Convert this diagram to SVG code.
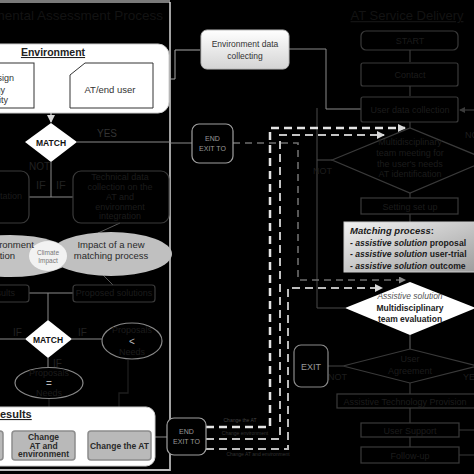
<svg xmlns="http://www.w3.org/2000/svg" width="474" height="474" viewBox="0 0 474 474">
<defs>
<style>
text{font-family:"Liberation Sans",Arial,sans-serif}
.dim{fill:#1c1c1c;font-size:9px}
.dimb{fill:none;stroke:#3a3a3a;stroke-width:1.2}
.ln{fill:none;stroke:#8a8a8a;stroke-width:1}
.dk{fill:none;stroke:#222;stroke-width:1.2}
.btn{fill:#b9b9b9;stroke:#8c8c8c;stroke-width:1.5}
.bt{fill:#2a2a2a;font-size:8.5px;font-weight:bold;text-anchor:middle}
.mid{text-anchor:middle}
</style>
<linearGradient id="gEnv" x1="0" y1="0" x2="0" y2="1"><stop offset="0" stop-color="#ffffff"/><stop offset="1" stop-color="#d4d4d4"/></linearGradient>
<linearGradient id="gMatch" x1="0" y1="0" x2="1" y2="1"><stop offset="0" stop-color="#f2f2f2"/><stop offset="1" stop-color="#9c9c9c"/></linearGradient>
<marker id="aw" markerWidth="8" markerHeight="8" refX="7" refY="4" orient="auto" markerUnits="userSpaceOnUse"><path d="M0,0 L8,4 L0,8 z" fill="#d8d8d8"/></marker>
<marker id="ag" markerWidth="7" markerHeight="7" refX="6" refY="3.5" orient="auto" markerUnits="userSpaceOnUse"><path d="M0,0 L7,3.5 L0,7 z" fill="#8a8a8a"/></marker>
<marker id="ad" markerWidth="6" markerHeight="6" refX="5" refY="3" orient="auto" markerUnits="userSpaceOnUse"><path d="M0,0 L6,3 L0,6 z" fill="#3a3a3a"/></marker>
<marker id="ak" markerWidth="6" markerHeight="6" refX="5" refY="3" orient="auto" markerUnits="userSpaceOnUse"><path d="M0,0 L6,3 L0,6 z" fill="#222"/></marker>
</defs>
<rect width="474" height="474" fill="#000"/>

<g id="left-panel">
<rect x="0" y="0" width="170" height="3" fill="#7a7a7a"/>
<line x1="170" y1="2" x2="170" y2="471" stroke="#d8d8d8" stroke-width="1.5"/>
<line x1="0" y1="470" x2="170" y2="470" stroke="#bdbdbd" stroke-width="2"/>
<text x="163" y="20" font-size="13.5" fill="#131313" text-anchor="end">Environmental Assessment Process</text>
</g>

<g id="connectors">
<path class="dk" d="M34,88 H70 M51,88 V113"/>
<path d="M51,113 V122" stroke="#cfcfcf" stroke-width="1.2" fill="none" marker-end="url(#aw)"/>
<path class="ln" d="M77,142 H170"/>
<path class="ln" d="M170,143 H192"/>
<path class="ln" d="M51,162 V197 M29,197 H73"/>
<path d="M120,223 L98,233" stroke="#555" stroke-width="1" fill="none"/>
<path d="M100,272 L113,285" stroke="#555" stroke-width="1" fill="none"/>
<path class="ln" d="M29,293 H73 M48,293 V320"/>
<path class="ln" d="M0,339 H25 M72,339 H102 M48,358 V368"/>
<path d="M49,399 V415 H43 V430" stroke="#1e1e1e" stroke-width="1.3" fill="none" marker-end="url(#ak)"/>
<path d="M128,360 V393 H119 V430" stroke="#1e1e1e" stroke-width="1.3" fill="none" marker-end="url(#ak)"/>
<path class="ln" d="M155,437 H167"/>
<path d="M168,79 H175 V50 H200" stroke="#a8a8a8" stroke-width="1" fill="none"/>
<path d="M289,49 H326 V109 H361" stroke="#8a8a8a" stroke-width="1" fill="none"/>
<path d="M474,110 H460" class="dimb" marker-end="url(#ad)"/>
<path d="M410,50 V62 M410,86 V96 M410,122 V128 M410,193 V198 M410,214 V222" class="dimb"/>
<path d="M332,160 H317 V308 H345" stroke="#4a4a4a" stroke-width="1" fill="none"/>
<path d="M317,108 V160" stroke="#4a4a4a" stroke-width="1" fill="none"/>
<path d="M410,335 V349" stroke="#666" stroke-width="1" fill="none"/>
<path d="M343,366 H328" class="dimb"/>
<path d="M410,383 V394 M410,408 V423 M410,437 V447" class="dimb"/>
<path d="M459,430 H474 M459,455 H474" class="dimb"/>
<path d="M233,143 H298 V280 H405" stroke="#6e6e6e" stroke-width="1.6" stroke-dasharray="7,5" fill="none" marker-end="url(#ag)"/>
<path d="M206,449 H288 V288 H382" stroke="#bcbcbc" stroke-width="2" stroke-dasharray="8,5" fill="none" marker-end="url(#aw)"/>
<path d="M206,439 H280 V135 H384" stroke="#c4c4c4" stroke-width="2" stroke-dasharray="8,5" fill="none" marker-end="url(#aw)"/>
<path d="M206,427 H270 V128 H405" stroke="#e4e4e4" stroke-width="2.5" stroke-dasharray="8,5" fill="none" marker-end="url(#aw)"/>
</g>

<g id="environment">
<rect x="-12" y="44" width="181" height="69" rx="11" fill="#fff" stroke="#ccc"/>
<text x="53" y="56" font-size="10.5" font-weight="bold" fill="#222" class="mid" text-decoration="underline">Environment</text>
<rect x="-12" y="63" width="46" height="45" fill="#fff" stroke="#333"/>
<text x="14" y="81" font-size="9" fill="#333" text-anchor="end">Design</text>
<text x="5" y="93" font-size="9" fill="#333" text-anchor="end">Technology</text>
<text x="8" y="103" font-size="9" fill="#333" text-anchor="end">Usability</text>
<polygon points="70,75 85,63 153,63 153,108 70,108" fill="#fff" stroke="#333"/>
<text x="110" y="93" font-size="9.5" fill="#333" class="mid">AT/end user</text>
</g>

<g id="match1">
<polygon points="25,142 51,123 77,142 51,162" fill="#fff"/>
<text x="51" y="145.5" font-size="8.5" font-weight="bold" fill="#111" class="mid">MATCH</text>
<text x="97" y="137" font-size="10" fill="#333">YES</text>
<text x="29" y="170" font-size="10" fill="#222">NOT</text>
<text x="36" y="189" font-size="11" fill="#222">IF</text>
<text x="56" y="189" font-size="11" fill="#222">IF</text>
</g>

<g id="box-env-adapt">
<rect x="-12" y="171" width="41" height="52" rx="8" class="dimb" stroke="#4a4a4a"/>
<text x="22" y="199" class="dim" text-anchor="end">adaptation</text>
</g>
<g id="box-technical">
<rect x="73" y="171" width="96" height="52" rx="8" class="dimb" stroke="#4a4a4a"/>
<text x="120" y="180" class="dim mid" font-size="8">Technical data</text>
<text x="120" y="190" class="dim mid" font-size="8">collection on the</text>
<text x="120" y="200" class="dim mid" font-size="8">AT and</text>
<text x="120" y="210" class="dim mid" font-size="8">environment</text>
<text x="120" y="219" class="dim mid" font-size="8">integration</text>
</g>

<g id="impacts">
<ellipse cx="10" cy="256" rx="62" ry="21" fill="#c3c3c3"/>
<ellipse cx="111" cy="254" rx="61" ry="22" fill="#c0c0c0"/>
<ellipse cx="48" cy="256" rx="19" ry="15" fill="#f2f2f2"/>
<text x="34" y="248" font-size="9.5" fill="#2a2a2a" text-anchor="end">Impact of environment</text>
<text x="15" y="259" font-size="9.5" fill="#2a2a2a" text-anchor="end">modification</text>
<text x="111" y="248" font-size="9.5" fill="#2a2a2a" class="mid">Impact of a new</text>
<text x="111" y="259" font-size="9.5" fill="#2a2a2a" class="mid">matching process</text>
<text x="48" y="255" font-size="6.5" fill="#777" class="mid">Climate</text>
<text x="48" y="263" font-size="6.5" fill="#777" class="mid">Impact</text>
</g>

<g id="box-results-row">
<rect x="-12" y="285" width="41" height="17" rx="3" class="dimb" stroke="#4a4a4a"/>
<text x="15" y="296" class="dim" text-anchor="end">Results</text>
<rect x="73" y="285" width="82" height="17" rx="3" class="dimb" stroke="#4a4a4a"/>
<text x="114" y="296" class="dim mid" font-size="8.5">Proposed solutions</text>
</g>

<g id="match2">
<polygon points="25,339 48,320 72,339 48,358" fill="#fff"/>
<text x="48" y="342.5" font-size="8.5" font-weight="bold" fill="#111" class="mid">MATCH</text>
<text x="13" y="336" font-size="10" fill="#222">IF</text>
<text x="78" y="336" font-size="10" fill="#222">IF</text>
<text x="53" y="367" font-size="10" fill="#222">IF</text>
</g>

<g id="less-than">
<ellipse cx="132" cy="341" rx="30" ry="18" fill="#000" stroke="#888" stroke-width="1.2"/>
<text x="132" y="333" class="dim mid" font-size="6">Proposals</text>
<text x="132" y="345" font-size="10" fill="#bbb" class="mid">&lt;</text>
<text x="132" y="355" class="dim mid" font-size="6">Needs</text>
</g>
<g id="equal">
<ellipse cx="49" cy="383" rx="34" ry="15.5" fill="#000" stroke="#888" stroke-width="1.2"/>
<text x="49" y="376" class="dim mid" font-size="6">Proposals</text>
<text x="49" y="387" font-size="10" fill="#bbb" class="mid">=</text>
<text x="49" y="396" class="dim mid" font-size="6">Needs</text>
</g>

<g id="results">
<rect x="-12" y="407" width="167" height="59" rx="9" fill="#fff" stroke="#ccc"/>
<text x="-8" y="418" font-size="11" font-weight="bold" fill="#222" text-decoration="underline">Results</text>
<rect x="-20" y="431" width="23" height="29" rx="3" class="btn"/>
<rect x="12" y="431" width="63" height="29" rx="3" class="btn"/>
<text x="43.5" y="440" class="bt">Change</text>
<text x="43.5" y="448.5" class="bt">AT and</text>
<text x="43.5" y="457" class="bt">environment</text>
<rect x="88" y="431" width="63" height="29" rx="3" class="btn"/>
<text x="119.5" y="449" class="bt">Change the AT</text>
</g>

<g id="end-exit-top">
<rect x="192" y="124" width="41" height="39" rx="7" fill="#000" stroke="#a0a0a0" stroke-width="1.2"/>
<text x="212.5" y="141" font-size="7" fill="#9a9a9a" class="mid">END</text>
<text x="212.5" y="151" font-size="7" fill="#9a9a9a" class="mid">EXIT TO</text>
</g>
<g id="end-exit-bottom">
<rect x="167" y="418" width="39" height="37" rx="7" fill="#000" stroke="#a0a0a0" stroke-width="1.2"/>
<text x="186.5" y="434" font-size="7" fill="#9a9a9a" class="mid">END</text>
<text x="186.5" y="444" font-size="7" fill="#9a9a9a" class="mid">EXIT TO</text>
<text x="240" y="422" font-size="5" fill="#444" class="mid">Change the AT</text>
<text x="245" y="435" font-size="5" fill="#333" class="mid">Change environment</text>
<text x="258" y="456" font-size="5" fill="#333" class="mid">Change AT and environment</text>
</g>

<g id="env-data">
<rect x="201" y="30" width="88" height="39" rx="6" fill="url(#gEnv)" stroke="#bbb"/>
<text x="245" y="47" font-size="8.5" fill="#333" class="mid">Environment data</text>
<text x="245" y="59" font-size="8.5" fill="#333" class="mid">collecting</text>
</g>

<g id="right-column">
<text x="407" y="20" font-size="13" fill="#131313" class="mid" text-decoration="underline">AT Service Delivery</text>
<rect x="361" y="31" width="97" height="19" rx="5" class="dimb"/>
<text x="410" y="44" class="dim mid">START</text>
<rect x="361" y="63" width="97" height="23" rx="2" class="dimb"/>
<text x="410" y="78" class="dim mid">Contact</text>
<rect x="361" y="97" width="97" height="25" rx="2" class="dimb"/>
<text x="410" y="113" class="dim mid">User data collection</text>
</g>

<g id="team-meeting">
<polygon points="332,160 410,128 488,160 410,193" class="dimb"/>
<text x="410" y="145" class="dim mid" font-size="8.5">Multidisciplinary</text>
<text x="410" y="156" class="dim mid" font-size="8.5">team meeting for</text>
<text x="410" y="167" class="dim mid" font-size="8.5">the user's needs</text>
<text x="410" y="177" class="dim mid" font-size="8.5">AT identification</text>
<text x="313" y="174" font-size="9" fill="#1e1e1e">NOT</text>
<text x="465" y="138" font-size="9" fill="#1e1e1e">NOT</text>
</g>

<g id="setting">
<rect x="361" y="198" width="97" height="16" class="dimb"/>
<text x="410" y="209.5" class="dim mid">Setting set up</text>
</g>

<g id="matching-process">
<rect x="344" y="222" width="135" height="50" fill="url(#gMatch)" stroke="#ccc"/>
<text x="350" y="234" font-size="9.5" font-weight="bold" font-style="italic" fill="#1a1a1a">Matching process<tspan font-style="normal">:</tspan></text>
<text x="350" y="245.5" font-size="8.6" font-weight="bold" fill="#1a1a1a">- <tspan font-style="italic">assistive solution</tspan> proposal</text>
<text x="350" y="257" font-size="8.6" font-weight="bold" fill="#1a1a1a">- <tspan font-style="italic">assistive solution</tspan> user-trial</text>
<text x="350" y="268.5" font-size="8.6" font-weight="bold" fill="#1a1a1a">- <tspan font-style="italic">assistive solution</tspan> outcome</text>
</g>

<g id="assistive-eval">
<polygon points="345,308 410,282 476,308 410,335" fill="#fff"/>
<text x="410" y="299" font-size="8.5" font-style="italic" fill="#555" class="mid">Assistive solution</text>
<text x="410" y="311" font-size="8.5" font-weight="bold" fill="#222" class="mid">Multidisciplinary</text>
<text x="410" y="322" font-size="8.5" font-weight="bold" fill="#222" class="mid">team evaluation</text>
</g>

<g id="user-agreement">
<polygon points="343,366 410,349 477,366 410,383" class="dimb"/>
<text x="410" y="362" class="dim mid" font-size="8">User</text>
<text x="410" y="374" class="dim mid" font-size="8">Agreement</text>
<text x="328" y="380" font-size="9" fill="#1e1e1e">NOT</text>
<text x="463" y="380" font-size="9" fill="#1e1e1e">YES</text>
</g>
<g id="exit">
<rect x="294" y="345" width="34" height="42" rx="7" fill="#000" stroke="#8a8a8a" stroke-width="1.2"/>
<text x="311" y="369.5" font-size="9" fill="#999" class="mid">EXIT</text>
</g>
<g id="provision">
<rect x="337" y="394" width="142" height="14" class="dimb"/>
<text x="405" y="404.5" class="dim mid" font-size="8.5">Assistive Technology Provision</text>
</g>
<g id="user-support">
<rect x="361" y="423" width="98" height="14" class="dimb"/>
<text x="410" y="433.5" class="dim mid">User Support</text>
</g>
<g id="follow-up">
<rect x="361" y="447" width="98" height="16" class="dimb"/>
<text x="410" y="458.5" class="dim mid">Follow-up</text>
</g>
</svg>
